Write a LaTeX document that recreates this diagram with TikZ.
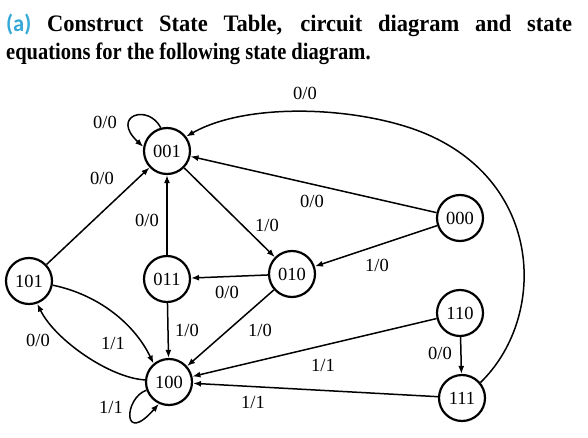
\documentclass[tikz,border=0pt]{standalone}
\usepackage{fontspec}
\setmainfont{Liberation Serif}
\newfontfamily\carl{Carlito}
\usetikzlibrary{arrows.meta}
\definecolor{titleblue}{RGB}{52,168,214}
\begin{document}
\begin{tikzpicture}[x=1pt,y=-1pt,
  st/.style={circle,draw,line width=2.2pt,minimum size=46pt,inner sep=0pt,font=\fontsize{18.5}{18.5}\selectfont},
  tr/.style={line width=1.5pt,-{Latex[length=8pt,width=6pt]}},
  lb/.style={font=\fontsize{18.5}{18.5}\selectfont,inner sep=0pt},
  ttl/.style={anchor=base west,inner sep=0pt}]
\useasboundingbox (0,0) rectangle (588,438);
% title
\node[ttl] (t1) at (6,32) {\scalebox{1}[1.05]{\makebox[566pt][s]{\fontsize{22.5}{24}\selectfont\bfseries {\carl\color{titleblue}(a)} Construct State Table, circuit diagram and state}}};
\node[ttl] (t2) at (6,60) {\scalebox{1}[1.15]{\fontsize{20.5}{24}\selectfont\bfseries equations for the following state diagram.}};
% states
\node[st] (s001) at (167,151) {001};
\node[st] (s000) at (460,218) {000};
\node[st] (s101) at (29,281) {101};
\node[st] (s011) at (167,279) {011};
\node[st] (s010) at (292,274) {010};
\node[st] (s100) at (169,382) {100};
\node[st] (s110) at (460,313) {110};
\node[st] (s111) at (462,398) {111};
% transitions
\draw[tr] (s101) -- (s001);
\draw[tr] (s011) -- (s001);
\draw[tr] (s001) -- (s010);
\draw[tr] (s000) -- (s001);
\draw[tr] (s000) -- (s010);
\draw[tr] (s010) -- (s011);
\draw[tr] (s011) -- (s100);
\draw[tr] (s010) -- (s100);
\draw[tr] (s110) -- (s100);
\draw[tr] (s111) -- (s100);
\draw[tr] (s110) -- (s111);
\coordinate (arcmid) at (433,137);
\draw[tr] (s111.40) .. controls (545,320) and (545,190) .. (arcmid) .. controls (370,107) and (250,100) .. (s001.37);
\draw[tr] (s001.105) .. controls (148,103) and (110,116) .. (s001.170);
\draw[tr] (s100.200) .. controls (124,398) and (122,446) .. (s100.245);
\draw[tr] (s101.-10) .. controls (100,295) and (135,325) .. (s100.130);
\draw[tr] (s100.175) .. controls (110,378) and (55,340) .. (s101.-70);
% labels
\node[lb] (l1) at (305,93) {0/0};
\node[lb] (l2) at (105,122) {0/0};
\node[lb] (l3) at (102,178) {0/0};
\node[lb] (l4) at (147,220) {0/0};
\node[lb] (l5) at (267,225) {1/0};
\node[lb] (l6) at (312,201) {0/0};
\node[lb] (l7) at (377,265) {1/0};
\node[lb] (l8) at (227,292) {0/0};
\node[lb] (l9) at (38,340) {0/0};
\node[lb] (l10) at (113,343) {1/1};
\node[lb] (l11) at (187,330) {1/0};
\node[lb] (l12) at (260,330) {1/0};
\node[lb] (l13) at (323,365) {1/1};
\node[lb] (l14) at (440,353) {0/0};
\node[lb] (l15) at (253,402) {1/1};
\node[lb] (l16) at (111,407) {1/1};
\end{tikzpicture}
\end{document}
